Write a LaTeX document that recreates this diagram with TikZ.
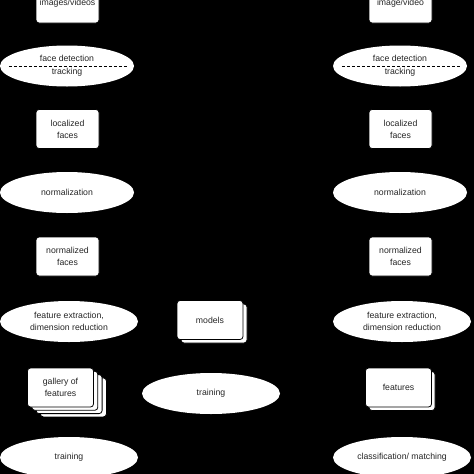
\documentclass[tikz,border=0pt]{standalone}
\usepackage{fontspec}
\setmainfont{Liberation Sans}
\usetikzlibrary{shapes.geometric}

\begin{document}
\begin{tikzpicture}[x=1pt,y=-1pt,
  every node/.style={font=\fontsize{8.7}{12}\selectfont,text=black!85,align=center},
  box/.style={draw=black,fill=white,rounded corners=3pt,line width=0.8pt,minimum width=63pt,minimum height=39pt,inner sep=0pt},
  card/.style={box,minimum width=66pt},
  oval/.style={ellipse,fill=white,inner sep=0pt,minimum width=138pt,minimum height=41pt},
  smalloval/.style={oval,minimum width=134pt},
  split/.style={dashed,dash pattern=on 3pt off 2pt,line width=0.7pt,shorten <=9pt,shorten >=6pt}]

\fill[black] (0,0) rectangle (474,474);
\useasboundingbox (0,0) rectangle (474,474);

% enrolment side
\node[box] (input) at (67.5,3.5) {images/videos};
\node[smalloval] (detect) at (67,66) {face detection\\[1pt]tracking};
\draw[split] (detect.west) -- (detect.east);
\node[box] (local) at (67.5,129) {localized\\faces};
\node[smalloval] (norm) at (67,192.5) {normalization};
\node[box] (normed) at (67.5,256.5) {normalized\\faces};
\node[oval] (extract) at (69,321.5) {feature extraction,\\dimension reduction};
\foreach \k in {3,2,1}
  \node[card] at ({60.5+4.3*\k},{387.5+3.3*\k}) {};
\node[card] (gallery) at (60.5,387.5) {gallery of\\features};
\node[oval] (train) at (69,457.5) {training};

% middle
\node[card] at (214,323.5) {};
\node[card] (models) at (210,320) {models};
\node[oval] (learn) at (211,393.5) {training};

% recognition side
\node[box] (query) at (400.5,3.5) {image/video};
\node[smalloval] (qdetect) at (400,66) {face detection\\[1pt]tracking};
\draw[split] (qdetect.west) -- (qdetect.east);
\node[box] (qlocal) at (400.5,129) {localized\\faces};
\node[smalloval] (qnorm) at (400,192.5) {normalization};
\node[box] (qnormed) at (400.5,256.5) {normalized\\faces};
\node[oval] (qextract) at (402,321.5) {feature extraction,\\dimension reduction};
\node[card] at (402,391) {};
\node[card] (feat) at (398.5,387.5) {features};
\node[oval] (match) at (402,457.5) {classification/ matching};

\end{tikzpicture}
\end{document}
